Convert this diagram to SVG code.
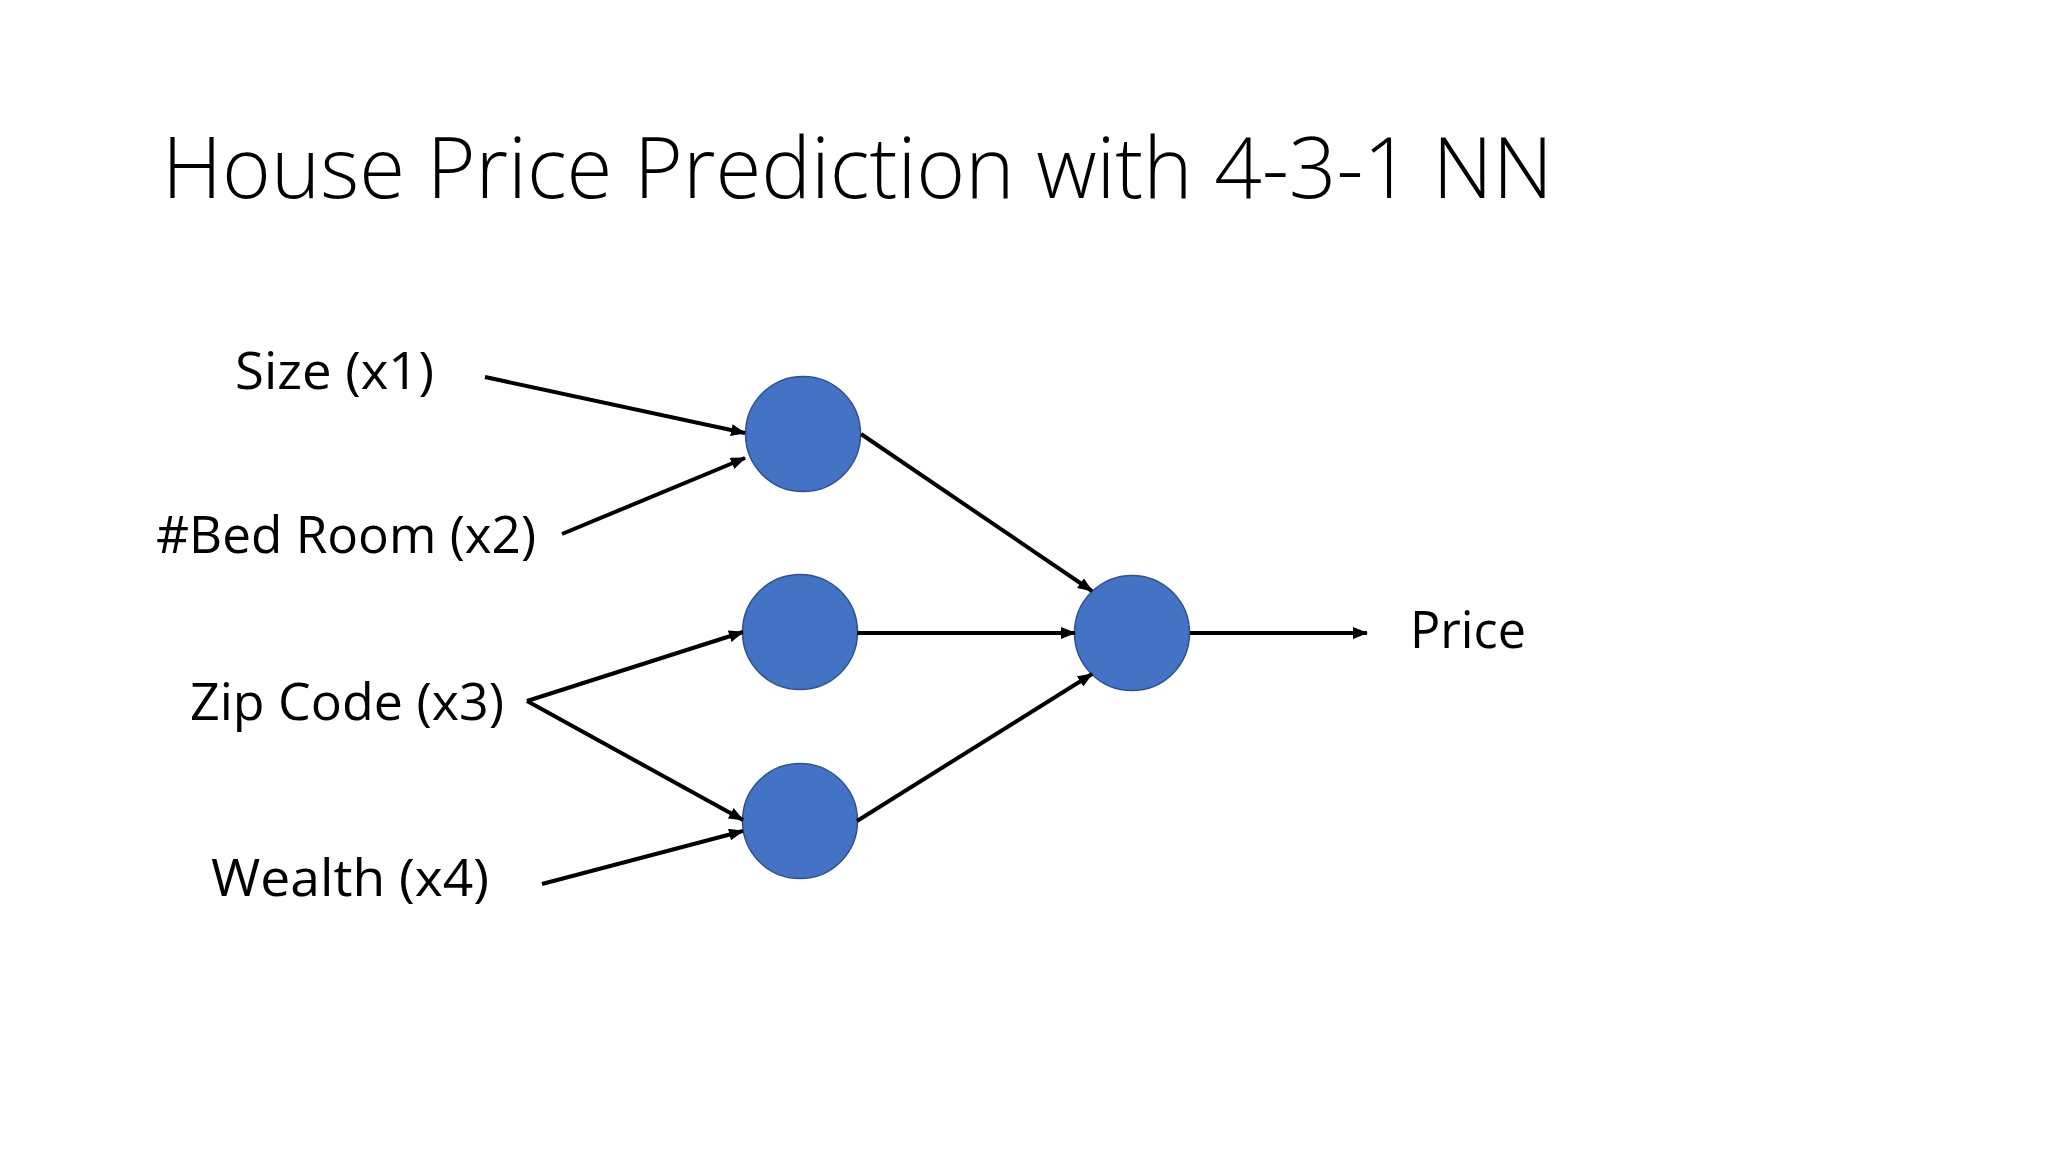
<svg xmlns="http://www.w3.org/2000/svg" width="2048" height="1152" viewBox="0 0 2048 1152">
  <defs>
    <marker id="arrow" viewBox="0 0 15 12" refX="14" refY="6" markerWidth="15" markerHeight="12" markerUnits="userSpaceOnUse" orient="auto">
      <path d="M0,0 L15,6 L0,12 z" fill="#000"/>
    </marker>
    <style>
      .title { font-family: "Open Sans", "Liberation Sans", sans-serif; font-weight: 300; font-size: 84px; fill: #000; }
      .label { font-family: "Open Sans", "Liberation Sans", sans-serif; font-size: 52px; fill: #000; }
      .neuron { fill: #4472C4; stroke: #2F528F; stroke-width: 1.5; }
      .conn { stroke: #000; stroke-width: 4; fill: none; marker-end: url(#arrow); }
    </style>
  </defs>
  <rect width="2048" height="1152" fill="#ffffff"/>

  <g id="title">
    <text class="title" x="162" y="198" textLength="1391" lengthAdjust="spacingAndGlyphs">House Price Prediction with 4-3-1 NN</text>
  </g>

  <g id="input-size"><text class="label" x="235" y="389" textLength="199" lengthAdjust="spacingAndGlyphs">Size (x1)</text></g>
  <g id="input-bedroom"><text class="label" x="156" y="553" textLength="380" lengthAdjust="spacingAndGlyphs">#Bed Room (x2)</text></g>
  <g id="input-zip"><text class="label" x="190" y="720" textLength="314" lengthAdjust="spacingAndGlyphs">Zip Code (x3)</text></g>
  <g id="input-wealth"><text class="label" x="211" y="896" textLength="278" lengthAdjust="spacingAndGlyphs">Wealth (x4)</text></g>
  <g id="output-price"><text class="label" x="1410" y="648" textLength="116" lengthAdjust="spacingAndGlyphs">Price</text></g>

  <g id="hidden-1"><circle class="neuron" cx="803" cy="434" r="57.5"/></g>
  <g id="hidden-2"><circle class="neuron" cx="800" cy="632" r="57.5"/></g>
  <g id="hidden-3"><circle class="neuron" cx="800" cy="821" r="57.5"/></g>
  <g id="output-node"><circle class="neuron" cx="1132" cy="633" r="57.5"/></g>

  <g id="connectors">
    <line class="conn" x1="485" y1="377" x2="745" y2="433"/>
    <line class="conn" x1="562" y1="534" x2="745" y2="458"/>
    <line class="conn" x1="527" y1="701" x2="743" y2="632"/>
    <line class="conn" x1="527" y1="701" x2="743" y2="820"/>
    <line class="conn" x1="542" y1="884" x2="743" y2="831"/>
    <line class="conn" x1="861" y1="434" x2="1092" y2="591"/>
    <line class="conn" x1="857" y1="633" x2="1075" y2="633"/>
    <line class="conn" x1="857" y1="821" x2="1092" y2="674"/>
    <line class="conn" x1="1190" y1="633" x2="1367" y2="633"/>
  </g>
</svg>
